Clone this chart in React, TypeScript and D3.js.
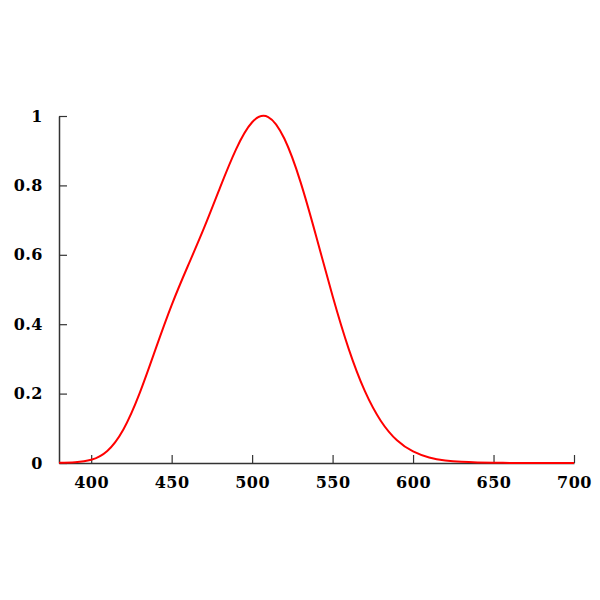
import * as d3 from "d3";
import { useEffect, useRef } from "react";

// scotopic luminosity (wavelength in nm)
const wavelengths = [
    380, 390, 400, 410, 420, 430, 440, 450, 460, 470, 480, 490, 500, 510,
    520, 530, 540, 550, 560, 570, 580, 590, 600, 610, 620, 630, 640, 650, 660, 670,
    680, 690, 700,
];
const luminosity = [
    0.0006, 0.0022, 0.0093, 0.0348, 0.0966, 0.1998, 0.3281, 0.455, 0.567, 0.676,
    0.793, 0.904, 0.982, 0.997, 0.935, 0.811, 0.65, 0.481, 0.3288, 0.2076, 0.1212,
    0.0655, 0.0332, 0.0159, 0.0074, 0.0033, 0.0015, 0.0007, 0.0003, 0.00015, 0.00007,
    0.00004, 0.00002,
];
const xTicks = [400, 450, 500, 550, 600, 650, 700];
const yTicks = [0, 0.2, 0.4, 0.6, 0.8, 1];

const App = () => {
    const ref = useRef<SVGSVGElement>(null);

    useEffect(() => {
        if (!ref.current) return;
        document.body.style.margin = "0";
        const svg = d3.select(ref.current);
        svg.selectAll("*").remove();

        const margin = { top: 116, right: 26, bottom: 137, left: 59 };
        const width = 600 - margin.left - margin.right;
        const height = 600 - margin.top - margin.bottom;

        const g = svg.append("g").attr("transform", `translate(${margin.left},${margin.top})`);

        const x = d3.scaleLinear().domain([380, 700]).range([0, width]);
        const y = d3.scaleLinear().domain([0, 1]).range([height, 0]);

        const font = "'DejaVu Serif', serif";

        const xAxis = g.append("g")
            .attr("transform", `translate(0,${height})`)
            .call(d3.axisBottom(x).tickValues(xTicks).tickSize(-8).tickPadding(14).tickSizeOuter(0));
        xAxis.selectAll("text").attr("dy", "0.71em");

        const yAxis = g.append("g")
            .call(d3.axisLeft(y).tickValues(yTicks).tickSize(-8).tickPadding(16)
                .tickFormat((d) => d3.format("~g")(d as number)).tickSizeOuter(0));

        [xAxis, yAxis].forEach((a) => {
            a.select(".domain").attr("stroke", "#333").attr("stroke-width", 1.5);
            a.selectAll(".tick line").attr("stroke", "#333").attr("stroke-width", 1.2);
            a.selectAll(".tick text")
                .attr("fill", "#000")
                .style("font-family", font)
                .style("font-weight", "bold")
                .style("font-size", "16px")
                .style("letter-spacing", "0.5px");
        });

        const pts = wavelengths.map((w, i) => [w, luminosity[i]] as [number, number]);
        const line = d3.line<[number, number]>()
            .x((d) => x(d[0]))
            .y((d) => y(d[1]))
            .curve(d3.curveNatural);

        g.append("path")
            .datum(pts)
            .attr("fill", "none")
            .attr("stroke", "#ff0000")
            .attr("stroke-width", 2)
            .attr("d", line);
    }, []);

    return <svg ref={ref} width={600} height={600} style={{ display: "block" }} />;
};

export default App;
